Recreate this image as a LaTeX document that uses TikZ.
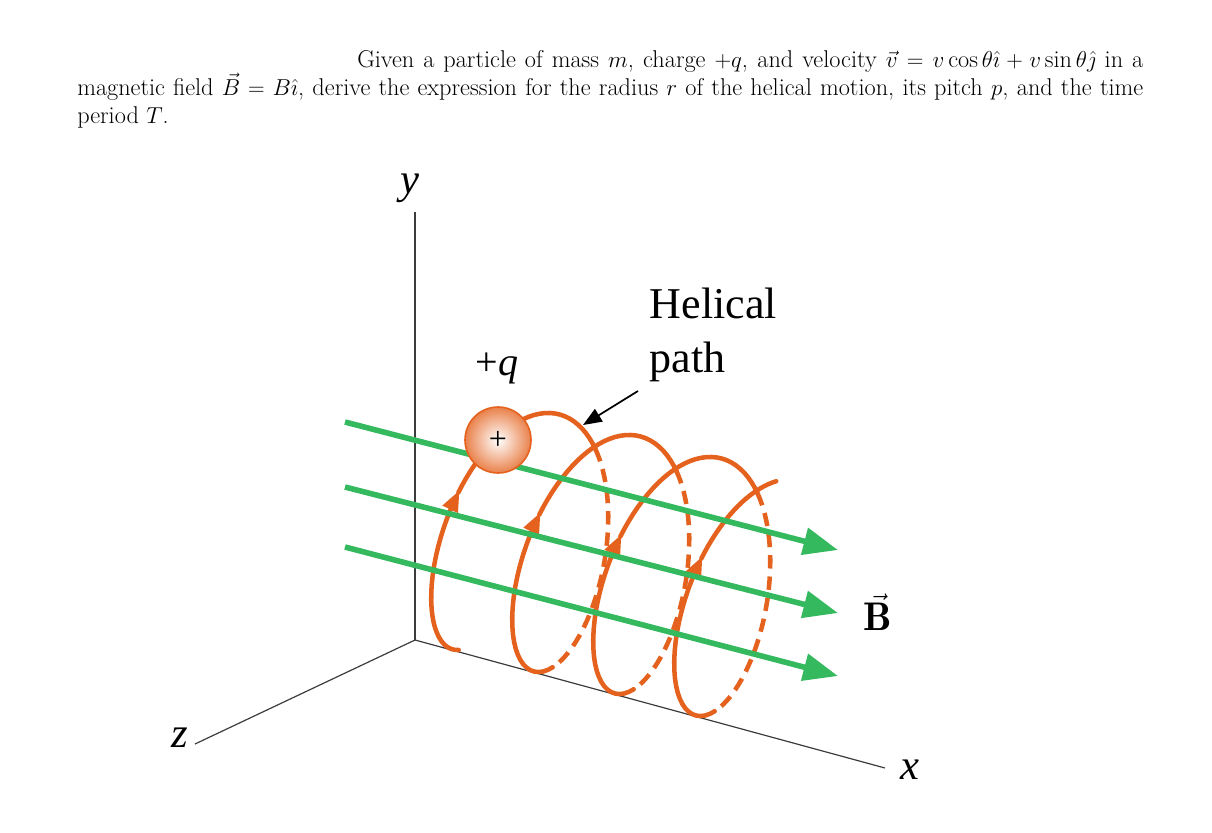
\documentclass[tikz,border=0pt]{standalone}
\usepackage{fontspec}
\usepackage{amsmath}
\newfontfamily\lab{Liberation Serif}
\usetikzlibrary{arrows.meta}
\definecolor{horange}{RGB}{228,98,30}
\definecolor{bgreen}{RGB}{52,185,95}
\definecolor{axgray}{RGB}{60,60,60}
\tikzset{
  helix/.style={draw=horange,line width=3.4pt,line cap=round},
  helixback/.style={draw=horange,line width=3.4pt,dash pattern=on 10pt off 6pt},
  harrow/.style={helix,-{Triangle[length=16pt,width=12pt]}},
  field/.style={draw=bgreen,line width=4.2pt,-{Triangle[length=26pt,width=20pt]}},
  axis/.style={draw=axgray,line width=0.9pt},
  lbl/.style={font=\lab\fontsize{30}{34}\selectfont},
  axlbl/.style={font=\lab\itshape\fontsize{32}{34}\selectfont},
  declare function={hx(\t)=504.5+81*\t/(2*pi)-62*cos(\t r)+25.5*sin(\t r);
                    hy(\t)=531.5+22*\t/(2*pi)-124*sin(\t r);}
}
\begin{document}
\begin{tikzpicture}[x=0.75pt,y=-0.75pt]
\useasboundingbox (0,0) rectangle (1212,832);
% problem text
\node[anchor=north west,text width=1066*0.75pt,align=justify,inner sep=0pt,
      font=\fontsize{18.2}{21}\selectfont] (txt) at (77,50)
{\hspace*{210pt}Given a particle of mass $m$, charge $+q$, and velocity $\vec{v}=v\cos\theta\hat{\imath}+v\sin\theta\hat{\jmath}$ in a\linebreak magnetic field $\vec{B}=B\hat{\imath}$, derive the expression for the radius $r$ of the helical motion, its pitch $p$, and the time\linebreak period $T$.};
% axes
\coordinate (O) at (415,640);
\coordinate (ytop) at (415,212);
\coordinate (zend) at (195,744);
\coordinate (xend) at (885,768);
\draw[axis] (O) -- (ytop);
\draw[axis] (O) -- (zend);
\draw[axis] (O) -- (xend);
\node[axlbl] (ylab) at (410,188) {y};
\node[axlbl] (zlab) at (180,738) {z};
\node[axlbl] (xlab) at (910,770) {x};
% helix
\foreach \k in {0,1,2,3}{
  \pgfmathsetmacro{\sa}{(\k==0 ? -pi/2 : 2*pi*\k-pi/2-0.25)}
  \pgfmathsetmacro{\am}{2*pi*\k+0.35}
  \pgfmathsetmacro{\an}{2*pi*\k+0.33}
  \draw[harrow] plot[domain=\sa:\am,samples=25,variable=\t] ({hx(\t)},{hy(\t)});
  \ifnum\k<3
    \pgfmathsetmacro{\se}{2*pi*\k+pi/2+0.75}
    \pgfmathsetmacro{\de}{2*pi*(\k+1)-pi/2-0.25}
    \draw[helix] plot[domain=\an:\se,samples=30,variable=\t] ({hx(\t)},{hy(\t)});
    \draw[helixback] plot[domain=\se:\de,samples=40,variable=\t] ({hx(\t)},{hy(\t)});
  \else
    \pgfmathsetmacro{\se}{2*pi*\k+1.35}
    \draw[helix] plot[domain=\an:\se,samples=20,variable=\t] ({hx(\t)},{hy(\t)});
  \fi
}
% field lines
\coordinate (f1a) at (345,422); \coordinate (f1b) at (838,550);
\coordinate (f2a) at (345,487); \coordinate (f2b) at (838,613);
\coordinate (f3a) at (345,547); \coordinate (f3b) at (838,676);
\draw[field] (f1a) -- (f1b);
\draw[field] (f2a) -- (f2b);
\draw[field] (f3a) -- (f3b);
% particle
\node[circle,minimum size=66*0.75pt,draw=horange,line width=1.2pt,
      inner color=white,outer color=horange!80,inner sep=0pt,
      font=\lab\fontsize{24}{24}\selectfont] (p) at (498,440) {+};
% labels
\node[lbl] (q) at (497,368) {+\textit{q}};
\node[lbl,align=left,anchor=west,font=\lab\fontsize{33}{40}\selectfont] (hp) at (645,335) {Helical\\path};
\coordinate (hptip) at (583,425);
\draw[line width=1.3pt,-{Triangle[length=14pt,width=11pt]}] (638,391) -- (hptip);
\node (B) at (878,612) {\fontsize{30}{30}\selectfont$\vec{\mathbf{B}}$};
\end{tikzpicture}
\end{document}
